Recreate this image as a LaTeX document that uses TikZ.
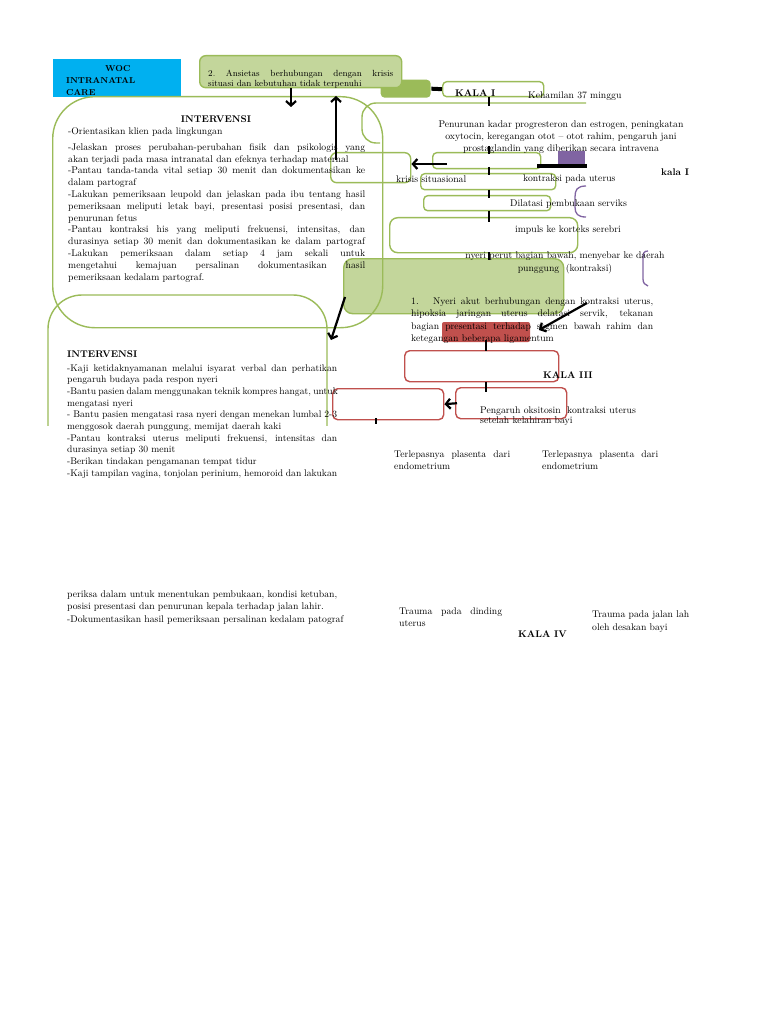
\documentclass[tikz,border=0pt]{standalone}
\usepackage{tikz}
\usetikzlibrary{arrows.meta}

\definecolor{wocblue}{HTML}{00B0F0}
\definecolor{grnline}{HTML}{9BBB59}
\definecolor{grnfill}{HTML}{C3D69B}
\definecolor{redline}{HTML}{C0504D}
\definecolor{purp}{HTML}{8064A2}

% satu baris rata kiri-kanan
\newcommand{\jline}[2]{\makebox[#1][s]{#2}}

\tikzset{
    grnbox/.style={draw=grnline, line width=1.4pt, rounded corners=6pt, anchor=north west},
    redbox/.style={draw=redline, line width=1.4pt, rounded corners=5pt, anchor=north west},
    txt/.style={inner sep=0pt, anchor=base west, align=left, font=\fontsize{9.7}{11.8}\selectfont},
    bold/.style={txt, font=\fontsize{9.7}{11.8}\selectfont\bfseries},
    bigarrow/.style={line width=2.2pt, -{Straight Barb[length=4.5pt,width=10pt]}},
    tick/.style={line width=2.4pt},
}

\begin{document}
\begin{tikzpicture}[x=1pt, y=-1pt]
    \useasboundingbox[fill=white] (0,0) rectangle (768,1024);

    % 1. kotak-kotak (terpotong pada y = 425)
    \begin{scope}
    \clip (0,0) rectangle (768,425);
    \node[fill=wocblue, anchor=north west, minimum width=128pt, minimum height=38pt] (woc) at (53,59) {};
    \node[grnbox, fill=grnline, rounded corners=4pt, draw=none, minimum width=50pt, minimum height=18pt] (dkgrn) at (380,79) {};
    \node[grnbox, fill=grnfill, minimum width=202pt, minimum height=32pt] (ansietas) at (199,55) {};
    \node[grnbox, fill=white, rounded corners=4pt, minimum width=101pt, minimum height=15pt] (kalabox) at (442,81) {};
    \draw[line width=4pt] (dkgrn.east) -- (kalabox.west);

    % kotak penurunan (sebagian)
    \draw[draw=grnline, line width=1.4pt, rounded corners=14pt] (586,103) -- (362,103) -- (362,143) -- (380,143);

    % kotak hijau nyeri
    \node[grnbox, fill=grnfill, rounded corners=9pt, minimum width=220pt, minimum height=55pt] (nyeribox) at (343,258) {};

    % kotak intervensi 1
    \node[grnbox, rounded corners=42pt, minimum width=330pt, minimum height=231pt] (intvone) at (52,96) {};

    % kotak-kotak kala I
    \node[grnbox, minimum width=80pt, minimum height=30pt] (krisis) at (330,152) {};
    \node[grnbox, rounded corners=4pt, minimum width=108pt, minimum height=16pt] (bone) at (432,152) {};
    \node[grnbox, rounded corners=4pt, minimum width=135pt, minimum height=16pt] (btwo) at (420,173) {};
    \node[grnbox, rounded corners=4pt, minimum width=127pt, minimum height=15pt] (bthree) at (423,195) {};
    \node[grnbox, rounded corners=8pt, minimum width=188pt, minimum height=35pt] (impuls) at (389,217) {};

    % kotak intervensi 2
    \draw[draw=grnline, line width=1.4pt, rounded corners=34pt] (48,430) -- (48,295) -- (327,295) -- (327,430);

    % kotak-kotak kala III
    \node[redbox, minimum width=154pt, minimum height=31pt] (rone) at (404,350) {};
    \node[redbox, minimum width=111pt, minimum height=31pt] (rtwo) at (332,388) {};
    \node[redbox, minimum width=111pt, minimum height=31pt] (rthree) at (455,387) {};

    % sorotan
    \fill[redline, rounded corners=2pt] (442,322) rectangle (530,342);
    \fill[purp] (558,151) rectangle (585,165);
    \draw[line width=4pt] (537,166) -- (587,166);

    % kurung ungu
    \draw[purp, line width=1.3pt] (586,186) .. controls (577,186) and (575,190) .. (575,197) -- (575,207) .. controls (575,214) and (578,217) .. (586,217);
    \draw[purp, line width=1.3pt] (648,251) .. controls (644,251) and (643,253) .. (643,258) -- (643,279) .. controls (643,283) and (645,285) .. (648,286);
    \end{scope}

    % 2. teks (titik = garis dasar baris terakhir)
    \node[txt, font=\fontsize{8.6}{12}\selectfont\bfseries] (woctxt) at (66,96) {\hspace*{39pt}WOC\\INTRANATAL\\CARE};
    \node[txt, font=\fontsize{8.9}{9.4}\selectfont] (ansietastxt) at (208,86.4)
        {\jline{185pt}{2.\ Ansietas berhubungan dengan krisis}\\
         situasi dan kebutuhan tidak terpenuhi};

    \node[bold, anchor=base] (title1) at (216,123) {INTERVENSI};
    \node[txt] (intvtxt1) at (68,280)
        {-Orientasikan klien pada lingkungan\\[4.2pt]
         \jline{297pt}{-Jelaskan proses perubahan-perubahan fisik dan psikologis yang}\\
         akan terjadi pada masa intranatal dan efeknya terhadap maternal\\
         \jline{297pt}{-Pantau tanda-tanda vital setiap 30 menit dan dokumentasikan ke}\\
         dalam partograf\\
         \jline{297pt}{-Lakukan pemeriksaan leupold dan jelaskan pada ibu tentang hasil}\\
         \jline{297pt}{pemeriksaan meliputi letak bayi, presentasi posisi presentasi, dan}\\
         penurunan fetus\\
         \jline{297pt}{-Pantau kontraksi his yang meliputi frekuensi, intensitas, dan}\\
         \jline{297pt}{durasinya setiap 30 menit dan dokumentasikan ke dalam partograf}\\
         \jline{297pt}{-Lakukan pemeriksaan dalam setiap 4 jam sekali untuk}\\
         \jline{297pt}{mengetahui kemajuan persalinan dokumentasikan hasil}\\
         pemeriksaan kedalam partograf.};

    \node[bold] (title2) at (67,357) {INTERVENSI};
    \node[txt, font=\fontsize{9.6}{11.7}\selectfont] (intvtxt2) at (67,476.3)
        {\jline{270pt}{-Kaji ketidaknyamanan melalui isyarat verbal dan perhatikan}\\
         pengaruh budaya pada respon nyeri\\
         \jline{270pt}{-Bantu pasien dalam menggunakan teknik kompres hangat, untuk}\\
         mengatasi nyeri\\
         \jline{270pt}{- Bantu pasien mengatasi rasa nyeri dengan menekan lumbal 2-3}\\
         menggosok daerah punggung, memijat daerah kaki\\
         \jline{270pt}{-Pantau kontraksi uterus meliputi frekuensi, intensitas dan}\\
         durasinya setiap 30 menit\\
         -Berikan tindakan pengamanan tempat tidur\\
         \jline{270pt}{-Kaji tampilan vagina, tonjolan perinium, hemoroid dan lakukan}};
    \node[txt, font=\fontsize{9.7}{12.5}\selectfont] (intvtxt3) at (67,622)
        {\jline{270pt}{periksa dalam untuk menentukan pembukaan, kondisi ketuban,}\\
         posisi presentasi dan penurunan kepala terhadap jalan lahir.\\
         -Dokumentasikan hasil pemeriksaan persalinan kedalam patograf};

    \node[bold] (kalaone) at (455,97) {KALA I};
    \node[txt] (hamil) at (528,99) {Kehamilan 37 minggu};
    \node[txt, anchor=base, align=center, font=\fontsize{9.7}{12}\selectfont] (turun) at (561,152)
        {Penurunan kadar progresteron dan estrogen, peningkatan\\
         oxytocin, keregangan otot -- otot rahim, pengaruh jani\\
         prostaglandin yang diberikan secara intravena};
    \node[txt] (krisistxt) at (396,183) {krisis situasional};
    \node[txt] (kontraksi) at (523,182) {kontraksi pada uterus};
    \node[bold] (kalaonekecil) at (661,176) {kala I};
    \node[txt] (dilatasi) at (510,207) {Dilatasi pembukaan serviks};
    \node[txt] (impulstxt) at (515,233) {impuls ke korteks serebri};
    \node[txt, anchor=base, align=center, font=\fontsize{9.7}{13}\selectfont] (perut) at (565,271)
        {nyeri perut bagian bawah, menyebar ke daerah\\
         punggung\ \ (kontraksi)};
    \node[txt, font=\fontsize{9.7}{12.5}\selectfont] (nyeriakut) at (411,341.5)
        {\jline{242pt}{1.\ \ \ Nyeri akut berhubungan dengan kontraksi uterus,}\\
         \jline{242pt}{hipoksia jaringan uterus delatasi servik, tekanan}\\
         \jline{242pt}{bagian presentasi terhadap segmen bawah rahim dan}\\
         ketegangan beberapa ligamentum};

    \node[bold] (kalathree) at (543,378) {KALA III};
    \node[txt, font=\fontsize{9.7}{10.5}\selectfont] (oksitosin) at (480,423.5)
        {Pengaruh oksitosin\ \ kontraksi uterus\\ setelah kelahiran bayi};
    \node[txt, font=\fontsize{9.7}{12}\selectfont] (lepasone) at (394,469)
        {\jline{116pt}{Terlepasnya plasenta dari}\\ endometrium};
    \node[txt, font=\fontsize{9.7}{12}\selectfont] (lepastwo) at (542,469)
        {\jline{116pt}{Terlepasnya plasenta dari}\\ endometrium};
    \node[txt, font=\fontsize{9.7}{12}\selectfont] (traumaone) at (399,626)
        {\jline{103pt}{Trauma pada dinding}\\ uterus};
    \node[txt, font=\fontsize{9.7}{13}\selectfont] (traumatwo) at (592,630)
        {Trauma pada jalan lah\\ oleh desakan bayi};
    \node[bold] (kalafour) at (518,637) {KALA IV};

    % 3. panah dan garis penghubung
    \coordinate (dnA) at (291,107);
    \coordinate (upB) at (336,160);
    \coordinate (kA) at (447,164);
    \coordinate (gA) at (345,297);
    \coordinate (gB) at (331,340);
    \coordinate (nA) at (587,303);
    \coordinate (nB) at (539,330);
    \draw[bigarrow] (ansietas.south -| dnA) -- (dnA);
    \draw[bigarrow] (upB) -- (upB |- intvone.north);
    \draw[bigarrow] (kA) -- (kA -| krisis.east);
    \draw[bigarrow] (gA) -- (gB);
    \draw[bigarrow] (nA) -- (nB);
    \draw[bigarrow] ([xshift=2pt]rthree.west) -- (rtwo.east);

    \foreach \ya/\yb in {97/106, 146/154, 167/175, 190/198, 211/222, 252/260}
        \draw[tick] (489,\ya) -- (489,\yb);
    \foreach \ya/\yb in {340/351, 382/392}
        \draw[tick] (486,\ya) -- (486,\yb);
    \draw[tick] (376,418) -- (376,424);

\end{tikzpicture}
\end{document}
